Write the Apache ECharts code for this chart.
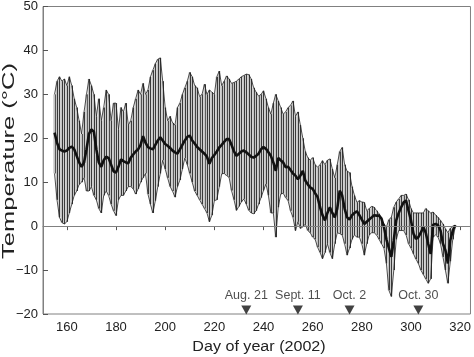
<!DOCTYPE html>
<html>
<head>
<meta charset="utf-8">
<script src="https://cdn.jsdelivr.net/npm/echarts@6/dist/echarts.min.js"></script>
<style>
html,body{margin:0;padding:0;background:#fff;}
#c{width:474px;height:357px;}
</style>
</head>
<body>
<div id="c"></div>
<script>
// Day of year of the first value
const firstDay = 155;
// Daily maximum temperature (°C), days 155..318
const maxT = [
30,33,34,33,33.5,32,34,32,29,27,24,21,26,30,33.5,32,30,25,29,24,27,31,30,24,28,28,22,27,26,28,23,
24,27,29,31,30,32.5,30,31,34,35.5,37,38,38.3,33,27,24,25,23.5,23,27,28,30,31.5,33,35,34,32,31.5,29.5,30,32.3,30,31,30.5,30,
34,35.3,32,33,34.2,33.5,32.5,32.7,33,33.5,34,34.3,34.6,34.5,33.5,31.5,30.5,29.6,30,30.8,29,27,25.5,28,30,28.5,27,25.5,26,27,27.5,28.5,25,26,23,20,
17,15.6,15,15.6,14,13.4,14,14.9,14,15,15.3,13,11,14,17,17.9,14,12.5,12.2,9,7,5.4,5.8,5.5,5.4,3.5,4,4.5,4.3,3.5,2.8,1.5,0.5,-0.2,1.5,2,4.3,5.5,6.2,7,7,7.3,6,4,3,3,3,3,3,4,3.5,3,3.2,2.5,2,1.3,0.5,-0.6,-1.5,-0.5,0,0.2
];
// Daily minimum temperature (°C)
const minT = [
12,6,2,0.8,0.5,1,3,5,7,8,9.5,10,11,8,8,9,7,6,4,3,7,8,7,5,3.5,2.4,6,7,7,8,9,
9,8.5,7.3,8.5,10,11,12,7.3,5,3,5.8,9,12,15,13,11,9,8,6.6,9,10.5,13,15.5,14,12,10,8,7,6,5,4,3,1,2.5,5.8,
6,9,11.9,12,11.5,11.1,8.1,6,3.6,4.5,5.5,6.2,5,3.6,3,2.8,3.5,5,6.5,8.1,9.6,7,3,3,-2.5,4.3,7.3,7.5,6.5,5.8,3.5,2,-1,1,-0.5,-0.2,
0.5,-1,-1.5,-2.5,-3,-4.8,-6,-7.4,-6,-4,-6,-7.4,-4,-1.5,-1.7,-2,-4,-6.6,-5,-3,-2,-2.5,-2.5,-4,-6.6,-4,-2,-1.5,-1.5,-2,-3,-4,-5,-8.5,-14.6,-16,-10,-3,-1,-1,-1,-2,-4,-5,-6.3,-7.5,-8.5,-10,-11,-12,-13,-12,-2.5,-2,-2.5,-4,-7,-10,-13,-8,-3,-0.2
];
// Daily mean temperature (°C)
const meanT = [
21.3,19,17.5,17.2,17,17.2,17.8,18.1,17.5,16,14.5,13.5,14.5,17.5,21,22,21.5,17.5,14.5,13.5,15,15.8,15.5,14,12.5,12.2,13.5,15.2,14.8,14.5,14.3,
15.6,16.3,17,17.5,18.5,20.5,19,18,17.7,17.5,18.5,19.5,20.2,19.5,18.7,18.3,17.8,17.2,16.8,16.5,17.5,18.5,19.5,20.3,20.6,19.5,18.8,18,17.5,17,16.5,15.8,14.2,15.5,16.2,
17,17.9,18.5,19.2,19.8,19.8,18.5,17,16,16.5,17,17.2,16.8,16.3,15.8,15.6,16,16.5,17.5,18,17.6,16.8,16,14.5,12.6,15.5,15,14.5,13.4,13.5,12.8,12,11.5,10.7,11.5,12.6,
10.4,9.5,8.8,8.5,7.5,6.6,4.3,2.5,1.3,3,4.3,3,2,4,8.1,7,4,2,1.5,2.5,3,3.4,2.5,1.5,0.5,1,1.5,2,2.5,2.4,2.4,1.7,-0.2,-3,-5,-7,-3.2,1.3,3,4.3,5.4,5.8,3.5,1.3,-1.7,-2.9,-2.5,-1.5,-0.2,-1.5,-4,-6.3,0.3,0.5,0.2,-1,-4,-5.5,-8.5,-3.2,-1,0.2
];
// Event markers
const markerDays = [233, 254, 275, 303];
const markerLabels = ['Aug. 21', 'Sept. 11', 'Oct. 2', 'Oct. 30'];
const markerLevel = -19.1;
// Axis ticks and titles
const xTicks = [160, 180, 200, 220, 240, 260, 280, 300, 320];
const xTitle = 'Day of year (2002)';
const yTitle = 'Temperature (\u00b0C)';

const days = maxT.map((_, i) => firstDay + i);
const rangeData = days.map((d, i) => [d, minT[i], maxT[i]]);
const maxData = days.map((d, i) => [d, maxT[i]]);
const minData = days.map((d, i) => [d, minT[i]]);
const meanData = days.map((d, i) => [d, meanT[i]]);
const markerData = markerDays.map((d, i) => ({ value: [d, markerLevel], label: { formatter: markerLabels[i] } }));

const FONT = 'Liberation Sans, Arial, sans-serif';
const chart = echarts.init(document.getElementById('c'), null, { renderer: 'canvas' });
const fmt = v => (v < 0 ? '\u2212' + (-v) : String(v));

chart.setOption({
  animation: false,
  grid: { left: 43, right: 2, top: 5, bottom: 43, show: true, borderColor: '#808080', borderWidth: 1 },
  graphic: [
    {
      type: 'text', x: 9, y: 161, rotation: Math.PI / 2, scaleX: 1.5, scaleY: 1,
      style: { text: yTitle, font: '17px Liberation Sans, Arial, sans-serif', fill: '#222',
               align: 'center', verticalAlign: 'middle', textAlign: 'center', textVerticalAlign: 'middle' }
    },
    {
      type: 'text', x: 259, y: 347, scaleX: 1.15, scaleY: 1,
      style: { text: xTitle, font: '14px Liberation Sans, Arial, sans-serif', fill: '#222',
               align: 'center', verticalAlign: 'middle', textAlign: 'center', textVerticalAlign: 'middle' }
    }
  ],
  xAxis: {
    type: 'value', min: 150.3, max: 324.2,
    axisLine: { show: true, lineStyle: { color: '#808080', width: 1 } },
    axisTick: { show: true, length: 4, customValues: xTicks, lineStyle: { color: '#555' } },
    axisLabel: { customValues: xTicks, fontFamily: FONT, fontSize: 13, color: '#222', margin: 7 },
    splitLine: { show: false }
  },
  yAxis: {
    type: 'value', min: -20, max: 50, interval: 10,
    axisLine: { show: true, lineStyle: { color: '#808080', width: 1 } },
    axisTick: { show: true, inside: true, length: 5, lineStyle: { color: '#555' } },
    axisLabel: { fontFamily: FONT, fontSize: 13, color: '#222', margin: 5, formatter: fmt },
    splitLine: { show: false }
  },
  series: [
    {
      type: 'custom',
      data: rangeData,
      z: 1,
      silent: true,
      renderItem: function (params, api) {
        const d = api.value(0);
        const lo = api.coord([d, api.value(1)]);
        const hi = api.coord([d, api.value(2)]);
        const w = api.size([1, 0])[0];
        return {
          type: 'group',
          children: [
            { type: 'rect', shape: { x: lo[0] - w / 2, y: hi[1], width: w, height: lo[1] - hi[1] }, style: { fill: '#c4c4c4' } },
            { type: 'line', shape: { x1: Math.round(lo[0]) + 0.5, y1: lo[1], x2: Math.round(lo[0]) + 0.5, y2: hi[1] }, style: { stroke: '#3a3a3a', lineWidth: 1 } }
          ]
        };
      }
    },
    {
      type: 'line', data: maxData, symbol: 'none', z: 2, silent: true,
      lineStyle: { color: '#222', width: 0.8 }
    },
    {
      type: 'line', data: minData, symbol: 'none', z: 2, silent: true,
      lineStyle: { color: '#222', width: 0.8 },
      markLine: {
        silent: true, symbol: 'none', label: { show: false },
        lineStyle: { color: '#808080', width: 1, type: 'solid' },
        data: [{ yAxis: 0 }]
      }
    },
    {
      type: 'line', data: meanData, symbol: 'none', z: 3, silent: true,
      lineStyle: { color: '#111', width: 2.6 }
    },
    {
      type: 'scatter', data: markerData, z: 4, silent: true,
      symbol: 'triangle', symbolRotate: 180, symbolSize: [10, 9],
      itemStyle: { color: '#111' },
      label: { show: true, position: 'top', distance: 3, fontFamily: FONT, fontSize: 12.5, color: '#222' }
    }
  ]
});
</script>
</body>
</html>
